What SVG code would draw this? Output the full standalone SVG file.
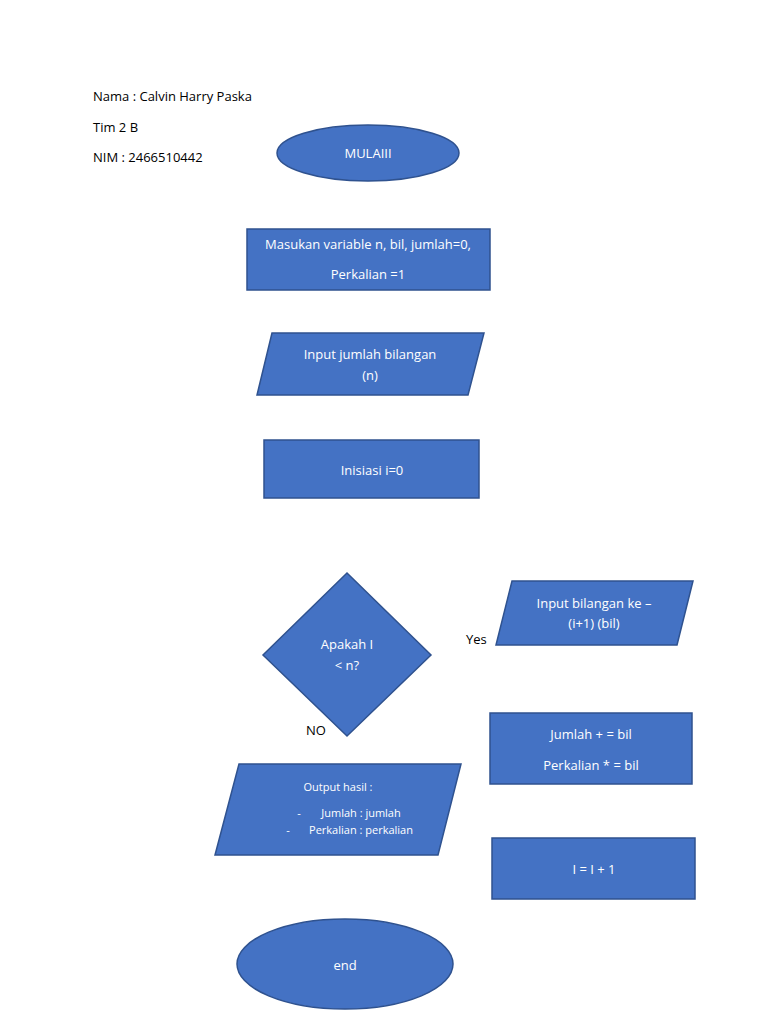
<svg xmlns="http://www.w3.org/2000/svg" width="768" height="1024" viewBox="0 0 768 1024">
<style>
.s{fill:#4472C4;stroke:#2F528F;stroke-width:1.5}
.t{font-family:"Open Sans","Liberation Sans",sans-serif;font-size:13px;fill:#fff;text-anchor:middle}
.k{font-family:"Open Sans","Liberation Sans",sans-serif;font-size:13px;fill:#000}
</style>
<rect width="768" height="1024" fill="#fff"/>
<text class="k" x="93" y="101">Nama : Calvin Harry Paska</text>
<text class="k" x="93" y="132">Tim 2 B</text>
<text class="k" x="93" y="162">NIM : 2466510442</text>
<g id="mulai"><ellipse class="s" cx="368" cy="153" rx="91" ry="28"/><text class="t" x="368" y="158">MULAIII</text></g>
<g id="var"><rect class="s" x="247" y="229" width="243" height="61"/><text class="t" x="368" y="249">Masukan variable n, bil, jumlah=0,</text><text class="t" x="368" y="279">Perkalian =1</text></g>
<g id="inputn"><polygon class="s" points="272,333 484,333 468,395 257,395"/><text class="t" x="370" y="359">Input jumlah bilangan</text><text class="t" x="370" y="380">(n)</text></g>
<g id="init"><rect class="s" x="264" y="440" width="215" height="58"/><text class="t" x="372" y="475">Inisiasi i=0</text></g>
<g id="cond"><polygon class="s" points="347,573 431,655 347,736 263,655"/><text class="t" x="347" y="649">Apakah I</text><text class="t" x="347" y="670">&lt; n?</text></g>
<text class="k" x="466" y="644">Yes</text>
<text class="k" x="306" y="735">NO</text>
<g id="inputbil"><polygon class="s" points="512,581 693,581 677,645 496,645"/><text class="t" x="594" y="608">Input bilangan ke –</text><text class="t" x="594" y="628">(i+1) (bil)</text></g>
<g id="jumlah"><rect class="s" x="490" y="713" width="202" height="71"/><text class="t" x="591" y="739">Jumlah + = bil</text><text class="t" x="591" y="770">Perkalian * = bil</text></g>
<g id="output"><polygon class="s" points="239,764 461,764 438,855 215,855"/><text class="t" x="338" y="791" style="font-size:11px">Output hasil :</text><text class="t" x="361" y="817" style="font-size:11px">Jumlah : jumlah</text><text class="t" x="361" y="834" style="font-size:11px">Perkalian : perkalian</text><text class="t" x="299" y="817" style="font-size:11px">-</text><text class="t" x="288" y="834" style="font-size:11px">-</text></g>
<g id="inc"><rect class="s" x="492" y="838" width="203" height="61"/><text class="t" x="594" y="874">I = I + 1</text></g>
<g id="end"><ellipse class="s" cx="345" cy="964" rx="108" ry="45"/><text class="t" x="345" y="970">end</text></g>
<g id="connectors"/>
</svg>
